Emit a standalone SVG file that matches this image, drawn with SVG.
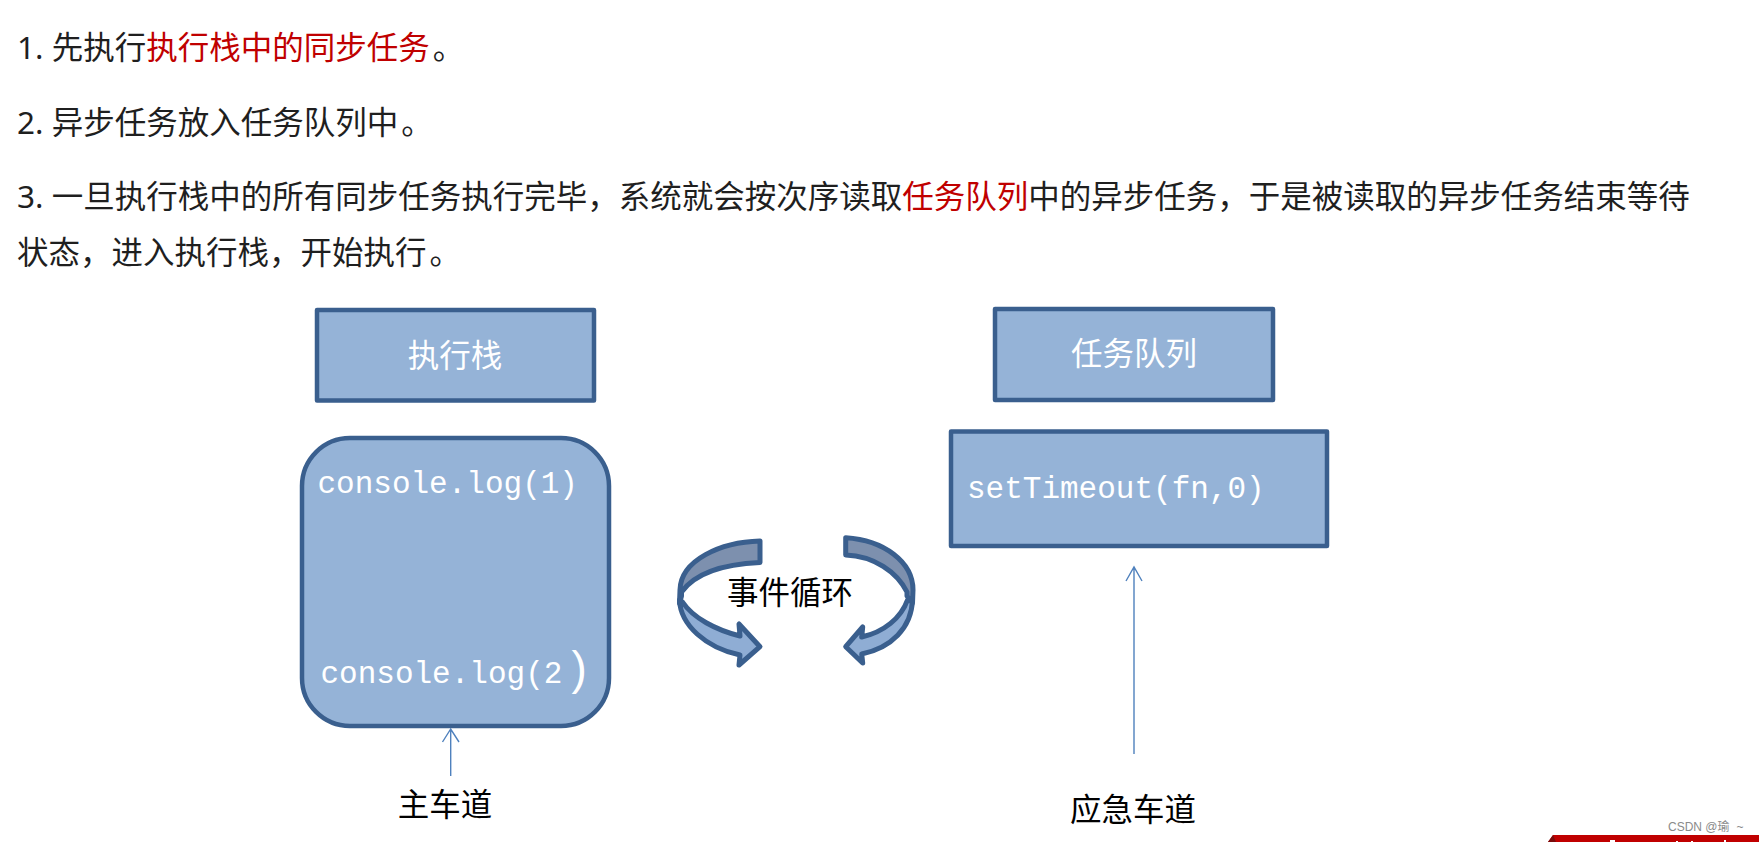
<svg xmlns="http://www.w3.org/2000/svg" width="1759" height="842" viewBox="0 0 1759 842">
<style>
.body{font-family:"Noto Sans","Noto Sans CJK SC",sans-serif;font-size:31.5px;fill:#1f1f1f}
.red{fill:#c00000}
.box{fill:#95b3d7;stroke:#3a5f8e;stroke-width:4.5;stroke-linejoin:round}
.cjkw{font-family:"Noto Sans CJK SC",sans-serif;font-size:31.5px;fill:#fff;text-anchor:middle}
.cjkb{font-family:"Noto Sans CJK SC",sans-serif;font-size:31.5px;fill:#000;text-anchor:middle}
.code{font-family:"Liberation Mono",monospace;font-size:31px;fill:#fff}
.conn{fill:none;stroke:#4f81bd;stroke-width:1.4}
.dark{fill:#7d90ae;stroke:#3a5f8e;stroke-width:5;stroke-linejoin:round}
.light{fill:#8fadd4;stroke:#3a5f8e;stroke-width:5;stroke-linejoin:round}
</style>
<rect width="1759" height="842" fill="#fff"/>
<g id="intro">
<text class="body" x="17" y="58.500">1. 先执行<tspan class="red">执行栈中的同步任务</tspan><tspan dx="3">。</tspan></text>
<text class="body" x="17" y="133.500">2. 异步任务放入任务队列中<tspan dx="3">。</tspan></text>
<text class="body" x="17" y="207.500">3. 一旦执行栈中的所有同步任务执行完毕，系统就会按次序读取<tspan class="red">任务队列</tspan>中的异步任务，于是被读取的异步任务结束等待</text>
<text class="body" x="17" y="263.500">状态，进入执行栈，开始执行<tspan dx="3">。</tspan></text>
</g>
<g id="connectors">
<path class="conn" d="M450.700 776V729M442.500 742L450.700 729L459 742"/>
<path class="conn" d="M1134 754V567M1126 581L1134 567L1142 581"/>
</g>
<g id="stack-title">
<rect class="box" x="317" y="310" width="277" height="90.500"/>
<text class="cjkw" x="455" y="367">执行栈</text>
</g>
<g id="stack">
<rect class="box" x="302" y="438" width="307" height="288" rx="48" ry="48"/>
<text class="code" x="317.500" y="492.500">console.log(1)</text>
<text class="code" x="320.500" y="682.500">console.log(2</text>
<text x="571.500" y="684" font-family="Liberation Sans,sans-serif" font-size="46" fill="#fff">)</text>
</g>
<g id="queue-title">
<rect class="box" x="995" y="309" width="278" height="91"/>
<text class="cjkw" x="1134" y="365">任务队列</text>
</g>
<g id="queue">
<rect class="box" x="951" y="431.500" width="376" height="114.500"/>
<text class="code" x="967" y="498">setTimeout(fn,0)</text>
</g>
<g id="loop-left">
<path class="light" d="M679.500 600C680.500 625 706 648 740 655L739 665L760 646.700L739 624L740 636C716 630 693 618 682.500 602Z"/>
<path class="dark" d="M760 541C721 542 680.500 560 680 590L679.500 603L681.500 596L681.500 592C696 572 726 564 760 562.500Z"/>
</g>
<g id="loop-right">
<path class="light" d="M912.500 600C911.500 628 891 648 861.700 654L862.700 663L845.700 646.700L862.700 627L861.700 637C884 632 901 618 907.500 600Z"/>
<path class="dark" d="M845.700 537.700C884 540 913 562 913 590L912.500 603L907 596L907 592C897 572 874 556 845.700 555Z"/>
</g>
<g id="loop-label"><text class="cjkb" x="790" y="604">事件循环</text></g>
<g id="main-lane"><text class="cjkb" x="445" y="816">主车道</text></g>
<g id="emergency-lane"><text class="cjkb" x="1133" y="821">应急车道</text></g>
<g id="footer">
<text x="1668" y="831" font-family="Liberation Sans,'Noto Sans CJK SC',sans-serif" font-size="12" fill="#8a8a8a">CSDN @瑜<tspan x="1736.500">~</tspan></text>
<path d="M1553 835H1759V842H1548Z" fill="#c00000"/>
<path d="M1553 835L1556 842H1548Z" fill="#7a0c0c"/>
<path d="M1610 840h5v2h-5zM1676 841h2v1h-2zM1691 841h2v1h-2zM1724 840h2v2h-2z" fill="#fff"/>
</g>
</svg>
